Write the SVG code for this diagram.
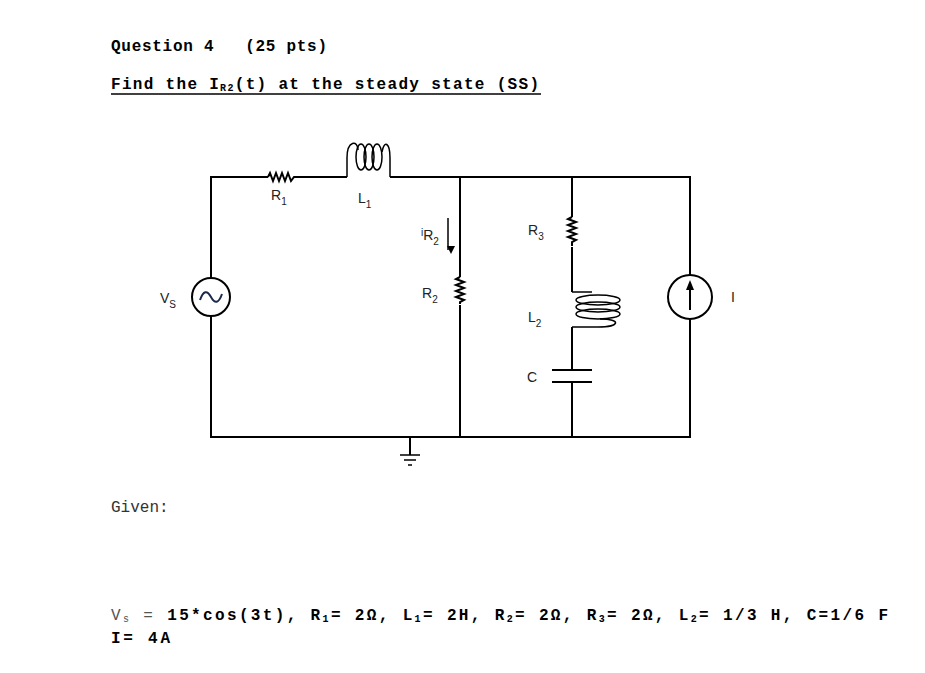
<svg xmlns="http://www.w3.org/2000/svg" width="925" height="673" viewBox="0 0 925 673">
<style>
.w{fill:none;stroke:#000;stroke-width:2}
.t{font-family:"Liberation Mono",monospace;font-size:16px;font-weight:bold;fill:#000}
.l{font-family:"Liberation Sans",Arial,sans-serif;font-size:14px;fill:#222}
.s{font-size:10px}
</style>
<defs><marker id="ah" markerWidth="8" markerHeight="8" refX="4" refY="7" orient="auto" markerUnits="userSpaceOnUse"><path d="M0,0 L8,0 L4,8z" fill="#000" transform="rotate(-90 4 4)"/></marker></defs>
<rect width="925" height="673" fill="#fff"/>
<text class="t" x="111" y="51" textLength="216" lengthAdjust="spacing" xml:space="preserve">Question 4   (25 pts)</text>
<text class="t" x="111" y="89" textLength="428" lengthAdjust="spacing">Find the I<tspan class="s" dy="2">R2</tspan><tspan dy="-2">(t) at the steady state (SS)</tspan></text>
<line x1="111" y1="94" x2="541" y2="94" stroke="#000" stroke-width="1.5"/>
<text x="111" y="512" style="font-family:'Liberation Mono',monospace;font-size:16px;fill:#333">Given:</text>
<text class="t" x="111" y="620" textLength="777" lengthAdjust="spacing"><tspan font-weight="normal" fill="#555">V<tspan class="s" dy="2">s</tspan><tspan dy="-2"> = </tspan></tspan>15*cos(3t), R<tspan class="s" dy="2">1</tspan><tspan dy="-2">= 2Ω, L</tspan><tspan class="s" dy="2">1</tspan><tspan dy="-2">= 2H, R</tspan><tspan class="s" dy="2">2</tspan><tspan dy="-2">= 2Ω, R</tspan><tspan class="s" dy="2">3</tspan><tspan dy="-2">= 2Ω, L</tspan><tspan class="s" dy="2">2</tspan><tspan dy="-2">= 1/3 H, C=1/6 F</tspan></text>
<text class="t" x="111" y="643" textLength="59" lengthAdjust="spacing" xml:space="preserve">I= 4A</text>
<g id="connectors">
<path class="w" d="M211,278 V177 H268 M296,177 H347 M390,177 H690 V275 M211,316 V437 H690 V319 M460,177 V277 M460,305 V437 M572,177 V217 M572,247 V292 M572,327 V370 M572,382 V437 M410,437 V455"/>
</g>
<g id="Vs"><circle cx="211" cy="297" r="19" class="w"/><path d="M200,300 Q205,286 211,297 T222,294" fill="none" stroke="#1a2a4a" stroke-width="2"/><text class="l" x="160" y="303">V<tspan class="s" dy="5">S</tspan></text></g>
<g id="R1"><path class="w" stroke-width="1.5" d="M268,177 l2,-4 l3,8 l3,-8 l3,8 l3,-8 l3,8 l3,-8 l3,8 l3,-4 h2"/><text class="l" x="271" y="200">R<tspan class="s" dy="5">1</tspan></text></g>
<g id="L1" fill="none" stroke="#000" stroke-width="1.5"><path d="M347,177 V158 C347,140 358,140 358,150"/><ellipse cx="361" cy="157" rx="5" ry="13"/><ellipse cx="369" cy="157" rx="5" ry="13"/><ellipse cx="377" cy="157" rx="5" ry="13"/><path d="M382,152 C384,140 390,142 390,158 V177"/><text class="l" x="358" y="203" stroke="none">L<tspan class="s" dy="5">1</tspan></text></g>
<g id="R2"><path class="w" stroke-width="1.5" d="M460,277 l-4,2 l8,3 l-8,3 l8,3 l-8,3 l8,3 l-8,3 l8,3 l-4,2 v2"/><text class="l" x="422" y="298">R<tspan class="s" dy="5">2</tspan></text>
<line x1="448" y1="218" x2="448" y2="250" stroke="#000" stroke-width="1.5" marker-end="url(#ah)"/><text class="l" x="421" y="240"><tspan class="s" dy="-4">i</tspan><tspan dy="4">R</tspan><tspan class="s" dy="5">2</tspan></text></g>
<g id="R3"><path class="w" stroke-width="1.5" d="M572,217 l-4,2 l8,3 l-8,3 l8,3 l-8,3 l8,3 l-8,3 l8,3 l-4,2 v4"/><text class="l" x="528" y="235">R<tspan class="s" dy="5">3</tspan></text></g>
<g id="L2" fill="none" stroke="#000" stroke-width="1.5"><path d="M572,292 H592"/><ellipse cx="598" cy="300" rx="22" ry="5"/><ellipse cx="598" cy="307" rx="22" ry="5"/><ellipse cx="598" cy="314" rx="22" ry="5"/><path d="M600,319 C622,319 620,327 598,327 H572"/><text class="l" x="528" y="322" stroke="none">L<tspan class="s" dy="5">2</tspan></text></g>
<g id="C"><line x1="552" y1="370" x2="592" y2="370" stroke="#000" stroke-width="2"/><line x1="552" y1="382" x2="592" y2="382" stroke="#000" stroke-width="2"/><text class="l" x="527" y="382">C</text></g>
<g id="I"><circle cx="690" cy="297" r="22" class="w"/><line x1="690" y1="310" x2="690" y2="288" stroke="#000" stroke-width="2"/><path d="M686,290 L690,280 L694,290z"/><text class="l" x="731" y="302">I</text></g>
<g id="ground"><path stroke="#000" stroke-width="1.5" d="M400,455 H420 M404,460 H416 M408,465 H412"/></g>
</svg>
